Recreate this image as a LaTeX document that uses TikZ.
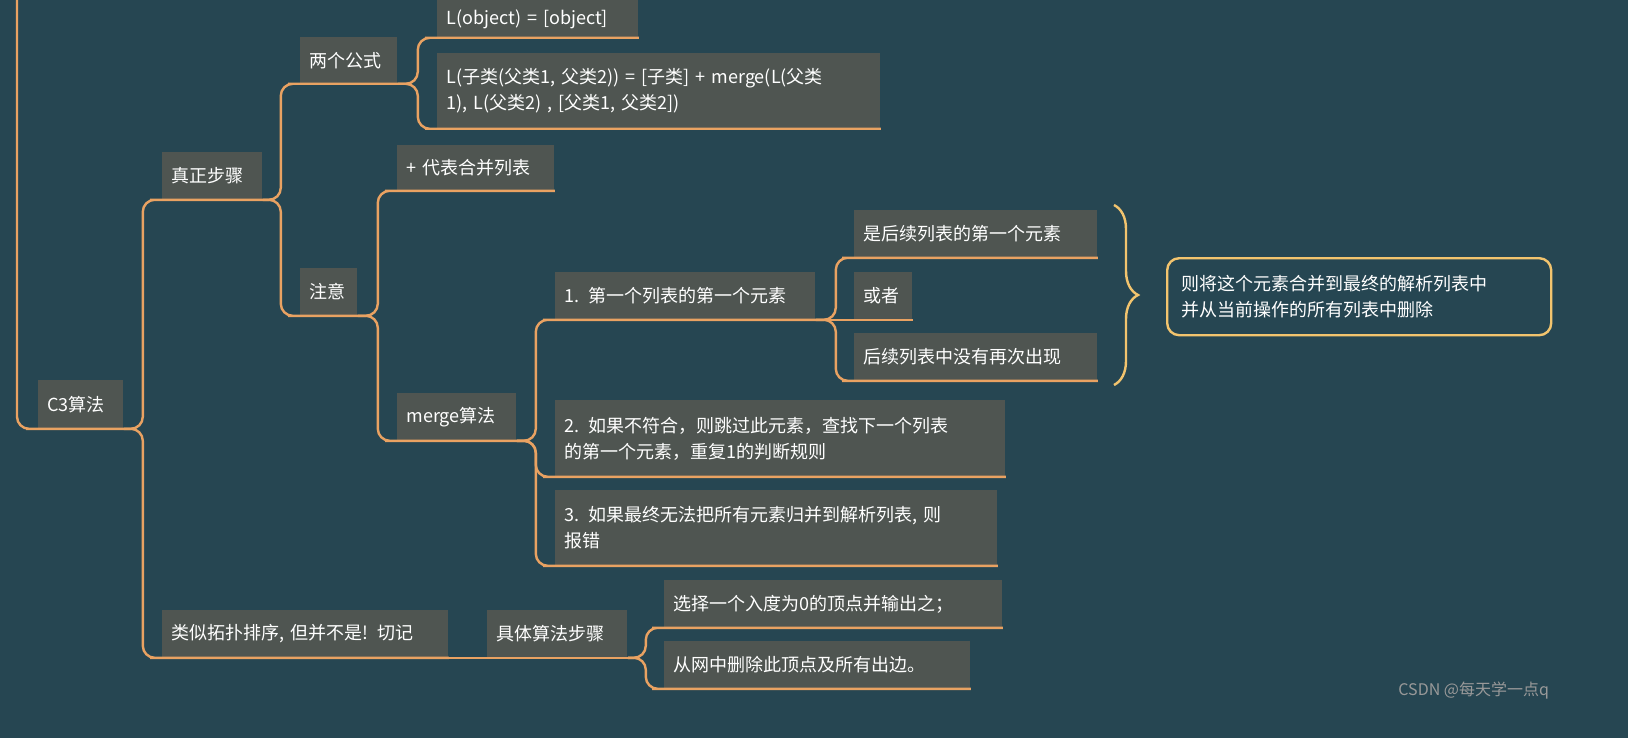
\documentclass[tikz,border=0pt]{standalone}
\usepackage{fontspec}
\setmainfont{Noto Sans CJK SC}
\usetikzlibrary{decorations.pathreplacing}
\definecolor{bgc}{HTML}{264652}
\definecolor{boxc}{HTML}{4F5551}
\definecolor{linec}{HTML}{E9A262}
\definecolor{bracec}{HTML}{F2C46E}
\tikzset{
  box/.style={fill=boxc, text=white, anchor=north west, align=left, inner xsep=4.5pt,
    text width=#1, font=\fontsize{9}{13}\selectfont},
  link/.style={draw=linec, line width=1.2pt, rounded corners=6pt}
}
\newcommand{\conn}[3]{\draw[link] (#1.south east) -- ++(#3,0) |- (#2.south west) -- (#2.south east);}

\begin{document}
\begin{tikzpicture}[x=0.5pt,y=-0.5pt]
\fill[bgc] (0,0) rectangle (1628,738);
\useasboundingbox (0,0) rectangle (1628,738);

% nodes
\node[box=33.5pt, minimum height=24pt] (c3) at (38,380) {C3算法};
\node[box=41pt, minimum height=23.5pt] (zhen) at (162,152) {真正步骤};
\node[box=39.5pt, minimum height=23pt] (liang) at (300,37) {两个公式};
\node[box=91.5pt, minimum height=18.5pt] (lobj) at (437,0) {L(object) = [object]};
\node[box=212.5pt, minimum height=37.5pt] (lsub) at (437,53)
  {L(子类(父类1, 父类2)) = [子类] + merge(L(父类\\1), L(父类2) , [父类1, 父类2])};
\node[box=19.5pt, minimum height=23.5pt] (zhu) at (300,268) {注意};
\node[box=69.5pt, minimum height=22.5pt] (plus) at (397,145) {+ 代表合并列表};
\node[box=50.5pt, minimum height=23.5pt] (merge) at (397,393) {merge算法};
\node[box=121pt, minimum height=23.5pt] (one) at (555,272) {1. 第一个列表的第一个元素};
\node[box=112.5pt, minimum height=23.5pt] (shi) at (854,210) {是后续列表的第一个元素};
\node[box=20pt, minimum height=23.5pt] (huo) at (854,272) {或者};
\node[box=112.5pt, minimum height=23.5pt] (hou) at (854,333) {后续列表中没有再次出现};
\node[box=216pt, minimum height=38pt] (two) at (555,400)
  {2. 如果不符合，则跳过此元素，查找下一个列表\\的第一个元素，重复1的判断规则};
\node[box=212pt, minimum height=37.5pt] (three) at (555,490)
  {3. 如果最终无法把所有元素归并到解析列表, 则\\报错};
\node[box=134pt, minimum height=23.5pt] (lei) at (162,610) {类似拓扑排序, 但并不是! 切记};
\node[box=61pt, minimum height=23.5pt] (ju) at (487,610) {具体算法步骤};
\node[box=160pt, minimum height=23.5pt] (xuan) at (664,580) {选择一个入度为0的顶点并输出之；};
\node[box=144pt, minimum height=23.5pt] (cong) at (664,641) {从网中删除此顶点及所有出边。};
\node[draw=bracec, line width=1.2pt, rounded corners=6pt, fill=bgc, text=white, align=left,
  anchor=north west, text width=178pt, minimum height=38.5pt, inner xsep=7pt,
  font=\fontsize{9}{13}\selectfont] (res) at (1166,257)
  {则将这个元素合并到最终的解析列表中\\并从当前操作的所有列表中删除};
\node[text=gray!80, anchor=east, font=\fontsize{8}{10}\selectfont] (csdn) at (1556,691) {CSDN @每天学一点q};

% connectors
\draw[link] (17,0) |- (c3.south west) -- (c3.south east);
\conn{c3}{zhen}{19}
\conn{c3}{lei}{19}
\conn{zhen}{liang}{18}
\conn{zhen}{zhu}{18}
\conn{liang}{lobj}{20}
\conn{liang}{lsub}{20}
\conn{zhu}{plus}{20}
\conn{zhu}{merge}{20}
\conn{merge}{one}{19}
\conn{merge}{two}{19}
\conn{merge}{three}{19}
\conn{one}{shi}{20}
\draw[link] (one.south east) -- (huo.south west) -- (huo.south east);
\conn{one}{hou}{20}
\draw[link] (lei.south east) -- (ju.south west) -- (ju.south east);
\conn{ju}{xuan}{18}
\conn{ju}{cong}{18}
\draw[draw=bracec, line width=1.2pt, decorate, decoration={brace, amplitude=12pt}]
  (1114,205) -- (1114,385);
\end{tikzpicture}
\end{document}
